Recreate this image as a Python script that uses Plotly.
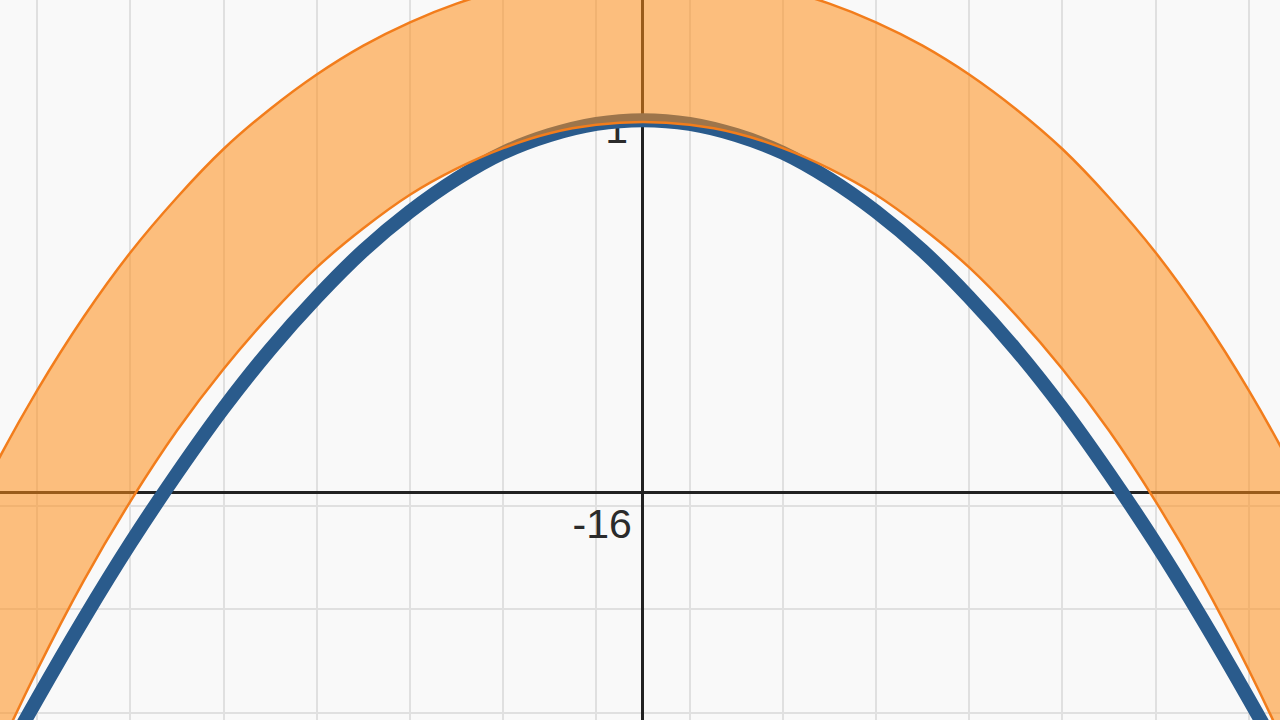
import plotly.graph_objects as go

# sample positions along x (one grid step = 1 unit)
x_vals = [-7.5, -7.0, -6.5, -6.0, -5.5, -5.0, -4.5, -4.0, -3.5, -3.0, -2.5, -2.0, -1.5, -1.0, -0.5,
          0.0, 0.5, 1.0, 1.5, 2.0, 2.5, 3.0, 3.5, 4.0, 4.5, 5.0, 5.5, 6.0, 6.5, 7.0, 7.5]

# blue curve
blue_y = [-4.06, -3.12, -2.22, -1.36, -0.55, 0.20, 0.90, 1.53, 2.09, 2.59, 3.01, 3.36, 3.64, 3.83, 3.95,
          3.99, 3.95, 3.83, 3.64, 3.36, 3.01, 2.59, 2.09, 1.53, 0.90, 0.20, -0.55, -1.36, -2.22, -3.12, -4.06]

# orange band: upper and lower edges
upper_y = [-0.83, 0.19, 1.09, 1.88, 2.57, 3.16, 3.68, 4.11, 4.48, 4.79, 5.04, 5.24, 5.39, 5.50, 5.56,
           5.58, 5.56, 5.50, 5.39, 5.24, 5.04, 4.79, 4.48, 4.11, 3.68, 3.16, 2.57, 1.88, 1.09, 0.19, -0.83]
lower_y = [-4.15, -2.97, -1.91, -0.95, -0.10, 0.66, 1.32, 1.90, 2.41, 2.83, 3.19, 3.47, 3.69, 3.85, 3.94,
           3.97, 3.94, 3.85, 3.69, 3.47, 3.19, 2.83, 2.41, 1.90, 1.32, 0.66, -0.10, -0.95, -1.91, -2.97, -4.15]

# grid lines
x_grid = [-6.5, -5.5, -4.5, -3.5, -2.5, -1.5, -0.5, 0.5, 1.5, 2.5, 3.5, 4.5, 5.5, 6.5]
y_grid = [-0.15, -1.25, -2.37]

# axis labels seen in the frame
label_text = ["1", "-16"]
label_x = [-0.16, -0.12]
label_y = [3.85, -0.38]

BLUE = "#2a5b8c"
ORANGE = "#f27d1c"
SMOOTH = 1.0

fig = go.Figure()

# labels first so the curves sit on top of them
fig.add_trace(go.Scatter(
    x=label_x, y=label_y, text=label_text, mode="text",
    textposition="middle left",
    textfont=dict(family="Liberation Sans, Arial", size=41, color="#2b2b2b"),
    hoverinfo="skip", showlegend=False
))

fig.add_trace(go.Scatter(
    x=x_vals, y=blue_y, mode="lines",
    line=dict(color=BLUE, width=14, shape="spline", smoothing=SMOOTH),
    showlegend=False
))

# shaded band between the two orange curves
band_x = x_vals + x_vals[::-1]
band_y = upper_y + lower_y[::-1]
fig.add_trace(go.Scatter(
    x=band_x, y=band_y, mode="lines", fill="toself",
    fillcolor="rgba(255,140,20,0.54)", line=dict(width=0, shape="spline", smoothing=SMOOTH),
    hoverinfo="skip", showlegend=False
))

fig.add_trace(go.Scatter(
    x=x_vals, y=upper_y, mode="lines",
    line=dict(color=ORANGE, width=2.5, shape="spline", smoothing=SMOOTH),
    showlegend=False
))
fig.add_trace(go.Scatter(
    x=x_vals, y=lower_y, mode="lines",
    line=dict(color=ORANGE, width=2.5, shape="spline", smoothing=SMOOTH),
    showlegend=False
))

fig.update_xaxes(
    range=[-6.899, 6.835], tickvals=x_grid, showticklabels=False,
    showgrid=True, gridcolor="#e0e0e0", gridwidth=1.6,
    zeroline=True, zerolinecolor="#222222", zerolinewidth=3, showline=False
)
fig.update_yaxes(
    range=[-2.446, 5.279], tickvals=y_grid, showticklabels=False,
    showgrid=True, gridcolor="#e0e0e0", gridwidth=1.6,
    zeroline=True, zerolinecolor="#222222", zerolinewidth=3, showline=False
)

fig.update_layout(
    width=1280, height=720,
    margin=dict(l=0, r=0, t=0, b=0),
    plot_bgcolor="#f9f9f9", paper_bgcolor="#f9f9f9",
    showlegend=False
)

fig.write_html("out.html", config={"displayModeBar": False},
               post_script="document.body.style.margin='0';document.body.style.overflow='hidden';")
